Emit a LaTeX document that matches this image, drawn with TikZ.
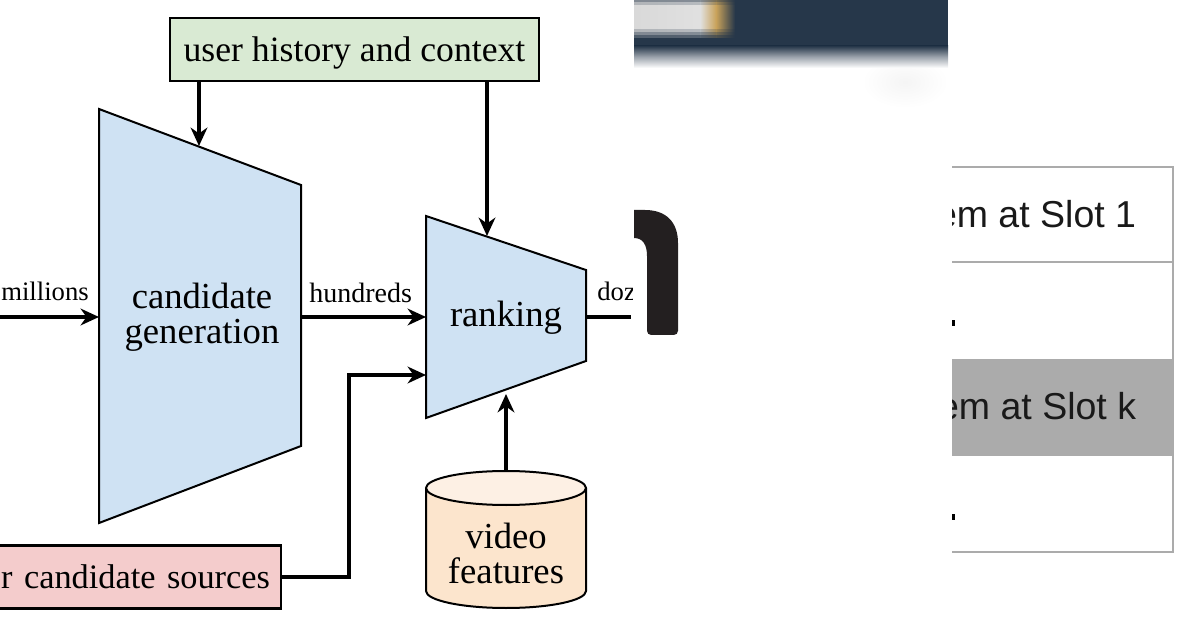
\documentclass[tikz,border=0pt]{standalone}
\usepackage{fontspec}
\setmainfont{Liberation Serif}
\newfontfamily\slotfont{Liberation Sans}
\usetikzlibrary{arrows.meta}
\definecolor{userc}{HTML}{D9EAD3}
\definecolor{blockc}{HTML}{CFE2F3}
\definecolor{otherc}{HTML}{F4CCCC}
\definecolor{videoc}{HTML}{FCE5CD}
\definecolor{videotopc}{HTML}{FDF0E4}
\definecolor{bandc}{HTML}{26374A}
\definecolor{goldc}{HTML}{C9A25A}
\definecolor{slotc}{HTML}{ABABAB}
\definecolor{hookc}{HTML}{231F20}
\tikzset{
	box/.style={draw=black,line width=1.4pt,inner ysep=0pt},
	block/.style={draw=black,line width=1.2pt,fill=blockc},
	blocktext/.style={align=center,font=\fontsize{22}{21}\selectfont},
	count/.style={anchor=base west,inner sep=0pt},
	flow/.style={line width=1.9pt,-{Stealth[length=11pt,width=10pt,inset=3.5pt]}},
	slot/.style={anchor=east,font=\slotfont\fontsize{22.5}{26}\selectfont,text=black!90},
	slotline/.style={draw=slotc,line width=1.6pt},
}
\begin{document}
\begin{tikzpicture}[x=0.6pt,y=-0.6pt]
	\useasboundingbox (0,0) rectangle (1200,630);

	% blurred photo
	\fill[bandc] (634,0) rectangle (948,46);
	\shade[inner color=black!4,outer color=white] (905,82) ellipse[x radius=43,y radius=26];
	\shade[top color=bandc,bottom color=white,middle color=bandc!45] (634,46) rectangle (948,68);
	\foreach \blur/\fade in {0/25,3/35,6/55,9/100} {
		\shade[left color=black!15,right color=black!12,opacity=\fade/100] (634,{-3+\blur}) rectangle (700,{38-\blur});
		\shade[left color=black!12,right color=goldc,opacity=\fade/100] (700,{-3+\blur}) rectangle (716,{38-\blur});
		\shade[left color=goldc,right color=bandc,opacity=\fade/100] (716,{-3+\blur}) rectangle (735,{38-\blur});
	}
	\fill[hookc] (634,210) -- (645,210)
		.. controls (666,210) and (678,222) .. (678,243)
		[rounded corners=2.5pt] -- (678,335) -- (647,335) [sharp corners] -- (647,256)
		.. controls (647,245) and (643,238) .. (634,238) -- cycle;

	% slots
	\begin{scope}
		\clip (952,150) rectangle (1200,570);
		\fill[slotc] (952,360) rectangle (1173,455);
		\draw[slotline] (940,167) -- (1173,167) -- (1173,552) -- (940,552);
		\draw[slotline] (940,262) -- (1173,262);
		\draw[slotline] (940,360) -- (1173,360);
		\draw[slotline] (940,455) -- (1173,455);
		\node[slot] (slotone) at (1142,214) {em at Slot 1};
		\node[slot] (slotk) at (1142,406) {em at Slot k};
		\fill[black] (952,320) rectangle (955,326);
		\fill[black] (952,514) rectangle (955,520);
	\end{scope}

	% blocks
	\draw[block] (99,109) -- (301,185) -- (301,446) -- (99,523) -- cycle;
	\draw[block] (426,216) -- (586,270) -- (586,361) -- (426,418) -- cycle;
	\node[blocktext] (generation) at (202,317) {candidate\\generation};
	\node[blocktext] (ranking) at (506,318) {ranking};

	% block ends
	\coordinate (genin) at (99,317);
	\coordinate (genout) at (301,317);
	\coordinate (gentop) at (199,146);
	\coordinate (rankin) at (426,317);
	\coordinate (rankother) at (426,375);
	\coordinate (ranktop) at (487,236);
	\coordinate (rankout) at (586,317);
	\coordinate (rankbottom) at (506,394);
	\coordinate (corpus) at (0,317);
	\coordinate (dozend) at (631,317);
	\coordinate (featurestop) at (506,471);

	% inputs
	\node[box,fill=userc,minimum width=221.4pt,minimum height=37.8pt,font=\fontsize{21.4}{25}\selectfont] (history) at (354.5,49.5) {\raisebox{-2.5pt}[14pt][5pt]{user history and context}};
	\node[box,fill=otherc,anchor=east,text width=190pt,inner xsep=6.5pt,minimum height=37.8pt,align=right,font=\fontsize{20.6}{25}\selectfont] (other) at (282,577) {r candidate sources};

	% database
	\draw[fill=videoc,line width=1.2pt] (426,488) -- (426,591) arc[start angle=180,end angle=0,x radius=80,y radius=17] -- (586,488);
	\draw[fill=videotopc,line width=1.2pt] (506,488) ellipse[x radius=80,y radius=17];
	\node[blocktext] (features) at (506,553) {video\\features};

	% arrows
	\draw[flow] (history.south -| gentop) -- (gentop);
	\draw[flow] (history.south -| ranktop) -- (ranktop);
	\draw[flow] (corpus) -- (genin);
	\draw[flow] (genout) -- (rankin);
	\draw[flow] (other.east) -- (349,577) -- (349,375) -- (rankother);
	\draw[flow] (featurestop) -- (rankbottom);
	\draw[line width=1.9pt] (rankout) -- (dozend);

	% counts
	\node[count,font=\fontsize{16}{19}\selectfont] (millions) at (1,300) {millions};
	\node[count,font=\fontsize{16.8}{19}\selectfont] (hundreds) at (309,303) {hundreds};
	\begin{scope}
		\clip (590,270) rectangle (632,312);
		\node[count,font=\fontsize{16}{19}\selectfont] (dozens) at (597,300.5) {doz};
	\end{scope}
\end{tikzpicture}
\end{document}
